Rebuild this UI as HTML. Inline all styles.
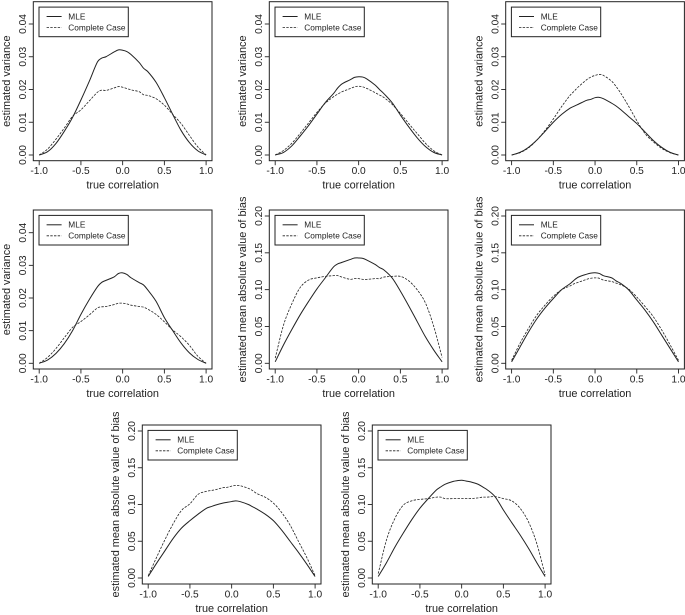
<!DOCTYPE html>
<html>
<head>
<meta charset="utf-8">
<title>True correlation panels</title>
<style>
html,body{margin:0;padding:0;background:#fff;width:685px;height:615px;overflow:hidden}
svg{display:block;font-family:"Liberation Sans",Arial,sans-serif;filter:blur(0.3px)}
</style>
</head>
<body>
<svg id="figure" width="685" height="615" viewBox="0 0 685 615" xmlns="http://www.w3.org/2000/svg"></svg>
<script>
const correlation = [-1,-.9,-.8,-.7,-.6,-.5,-.4,-.3,-.25,-.2,-.1,-.05,0,.05,.1,.2,.25,.3,.4,.5,.6,.7,.8,.9,1];
const xTicks = [-1,-0.5,0,0.5,1];
const xTickLabels = ["-1.0","-0.5","0.0","0.5","1.0"];
const varianceTicks = [0,0.01,0.02,0.03,0.04];
const varianceTickLabels = ["0.00","0.01","0.02","0.03","0.04"];
const biasTicks = [0,0.05,0.10,0.15,0.20];
const biasTickLabels = ["0.00","0.05","0.10","0.15","0.20"];

const mle1 = [0,.001,.0035,.0072,.0115,.0168,.0225,.0285,.0296,.0300,.0315,.0321,.0320,.0316,.0307,.0282,.0265,.0255,.0222,.0175,.0124,.0075,.0038,.0013,0];
const cc1 = [0,.0018,.0048,.0082,.0118,.0138,.0165,.0192,.0198,.0197,.0205,.0209,.0207,.0203,.0199,.0193,.0184,.0182,.0172,.0152,.0124,.0096,.0060,.0025,0];
const mle2 = [0,.0008,.0028,.0058,.0090,.0125,.0160,.0188,.0205,.0217,.0230,.0237,.0239,.0238,.0232,.0213,.0200,.0188,.0160,.0122,.0086,.0053,.0026,.0008,0];
const cc2 = [0,.0014,.0036,.0066,.0098,.0130,.0158,.0178,.0186,.0193,.0203,.0208,.0210,.0208,.0203,.0190,.0183,.0176,.0155,.0127,.0096,.0066,.0036,.0013,0];
const mle3 = [0,.0008,.0023,.0045,.0072,.0100,.0124,.0143,.0149,.0155,.0167,.0170,.0175,.0176,.0172,.0158,.0150,.0140,.0118,.0096,.0070,.0044,.0023,.0008,0];
const cc3 = [0,.0007,.0021,.0045,.0075,.0110,.0148,.0182,.0195,.0208,.0230,.0238,.0243,.0246,.0243,.0225,.0210,.0192,.0150,.0105,.0065,.0040,.0020,.0007,0];
const mle4 = [0,.0010,.0030,.0060,.0100,.0150,.0195,.0235,.0248,.0254,.0265,.0275,.0277,.0272,.0262,.0247,.0240,.0225,.0190,.0140,.0100,.0062,.0032,.0012,0];
const cc4 = [0,.0018,.0045,.0078,.0110,.0128,.0148,.0170,.0173,.0174,.0180,.0184,.0184,.0182,.0178,.0174,.0172,.0166,.0150,.0127,.0102,.0081,.0055,.0022,0];
const mle5 = [.002,.025,.046,.066,.084,.101,.116,.131,.135,.137,.141,.143,.143,.1425,.140,.134,.130,.127,.116,.098,.078,.057,.036,.018,.002];
const cc5 = [.007,.052,.081,.103,.113,.116,.118,.119,.119,.117,.114,.115,.115,.114,.114,.115,.115,.117,.118,.118,.112,.100,.082,.050,.008];
const mle6 = [.002,.022,.042,.060,.075,.088,.100,.108,.113,.117,.121,.1225,.123,.122,.119,.116,.112,.109,.100,.086,.072,.056,.038,.020,.002];
const cc6 = [.004,.027,.047,.065,.079,.091,.100,.105,.108,.110,.114,.1155,.116,.1155,.113,.111,.109,.107,.101,.090,.077,.063,.045,.025,.004];
const mle7 = [.002,.020,.037,.054,.068,.078,.087,.095,.097,.099,.102,.103,.104,.105,.104,.100,.097,.094,.087,.078,.065,.050,.035,.019,.002];
const cc7 = [.003,.028,.052,.074,.092,.101,.114,.118,.119,.120,.123,.1235,.125,.126,.1255,.122,.119,.115,.110,.102,.089,.072,.050,.028,.003];
const mle8 = [.002,.021,.042,.061,.079,.095,.108,.120,.124,.1275,.1315,.1325,.133,.132,.131,.1274,.124,.1206,.1107,.0925,.0754,.0587,.0406,.021,.002];
const cc8 = [.006,.052,.081,.099,.105,.107,.108,.110,.110,.108,.108,.108,.108,.108,.108,.109,.110,.110,.1107,.108,.105,.095,.0766,.047,.004];

const varianceTitle = "estimated variance";
const biasTitle = "estimated mean absolute value of bias";
const xTitle = "true correlation";
const legendLabels = ["MLE","Complete Case"];

const panels = [
  {left:33.3, top:1.7, zero:155, span:131, yMax:0.04, mle:mle1, cc:cc1, ticks:varianceTicks, tickLabels:varianceTickLabels, title:varianceTitle},
  {left:269.3, top:1.7, zero:155, span:131, yMax:0.04, mle:mle2, cc:cc2, ticks:varianceTicks, tickLabels:varianceTickLabels, title:varianceTitle},
  {left:505.7, top:1.7, zero:155, span:131, yMax:0.04, mle:mle3, cc:cc3, ticks:varianceTicks, tickLabels:varianceTickLabels, title:varianceTitle},
  {left:33.3, top:210, zero:363.3, span:130.6, yMax:0.04, mle:mle4, cc:cc4, ticks:varianceTicks, tickLabels:varianceTickLabels, title:varianceTitle},
  {left:269.3, top:210, zero:363.3, span:147.3, yMax:0.2, mle:mle5, cc:cc5, ticks:biasTicks, tickLabels:biasTickLabels, title:biasTitle},
  {left:505.7, top:210, zero:363.3, span:147.3, yMax:0.2, mle:mle6, cc:cc6, ticks:biasTicks, tickLabels:biasTickLabels, title:biasTitle},
  {left:142.3, top:425, zero:578, span:147, yMax:0.2, mle:mle7, cc:cc7, ticks:biasTicks, tickLabels:biasTickLabels, title:biasTitle},
  {left:372.3, top:425, zero:578, span:147, yMax:0.2, mle:mle8, cc:cc8, ticks:biasTicks, tickLabels:biasTickLabels, title:biasTitle}
];

const INK = "#222";
const NS = "http://www.w3.org/2000/svg";
const BOX_W = 178.7, BOX_H = 159;

function make(tag, attrs, parent) {
  const el = document.createElementNS(NS, tag);
  for (const k in attrs) el.setAttribute(k, attrs[k]);
  parent.appendChild(el);
  return el;
}

function drawSeries(g, values, xScale, yScale, dash, width) {
  const last = values.length - 1;
  function slope(i) {
    const a = Math.max(i - 1, 0), b = Math.min(i + 1, last);
    return (values[b] - values[a]) / (correlation[b] - correlation[a]);
  }
  let d = "M" + xScale(correlation[0]).toFixed(2) + " " + yScale(values[0]).toFixed(2);
  for (let i = 0; i < last; i++) {
    const h = correlation[i + 1] - correlation[i];
    const c1x = correlation[i] + h / 3, c1y = values[i] + slope(i) * h / 3;
    const c2x = correlation[i + 1] - h / 3, c2y = values[i + 1] - slope(i + 1) * h / 3;
    d += "C" + xScale(c1x).toFixed(2) + " " + yScale(c1y).toFixed(2) + " " +
         xScale(c2x).toFixed(2) + " " + yScale(c2y).toFixed(2) + " " +
         xScale(correlation[i + 1]).toFixed(2) + " " + yScale(values[i + 1]).toFixed(2);
  }
  const attrs = {d: d, fill: "none", stroke: INK, "stroke-width": width, "stroke-linejoin": "round"};
  if (dash) attrs["stroke-dasharray"] = dash;
  return make("path", attrs, g);
}

const svg = document.getElementById("figure");

panels.forEach(function (p, index) {
  const xScale = function (r) { return p.left + 5.9 + (r + 1) / 2 * 166.9; };
  const yScale = function (v) { return p.zero - v / p.yMax * p.span; };
  const bottom = p.top + BOX_H;
  const cx = p.left + BOX_W / 2;
  const cy = p.top + BOX_H / 2;

  const g = make("g", {}, svg);
  
  

  const frame = make("rect", {x: p.left, y: p.top, width: BOX_W, height: BOX_H, fill: "none", stroke: INK, "stroke-width": 1}, g);
  
  

  xTicks.forEach(function (t, i) {
    const tick = make("line", {x1: xScale(t), x2: xScale(t), y1: bottom, y2: bottom + 4.5, stroke: INK, "stroke-width": 0.9}, g);
    
    
    const label = make("text", {x: xScale(t), y: bottom + 13.3, "text-anchor": "middle", "font-size": 10.2, fill: INK}, g);
    label.textContent = xTickLabels[i];
    
    
  });

  p.ticks.forEach(function (t, i) {
    const y = yScale(t);
    const tick = make("line", {x1: p.left - 4.5, x2: p.left, y1: y, y2: y, stroke: INK, "stroke-width": 0.9}, g);
    
    
    const lx = p.left - 7.3;
    const label = make("text", {x: lx, y: y, transform: "rotate(-90 " + lx + " " + y + ")", "text-anchor": "middle", "font-size": 10.2, fill: INK}, g);
    label.textContent = p.tickLabels[i];
    
    
  });

  const xt = make("text", {x: cx, y: bottom + 28, "text-anchor": "middle", "font-size": 10.9, fill: INK}, g);
  xt.textContent = xTitle;
  
  

  const tx = p.left - 23.3;
  const yt = make("text", {x: tx, y: cy, transform: "rotate(-90 " + tx + " " + cy + ")", "text-anchor": "middle", "font-size": 10.9, fill: INK}, g);
  yt.textContent = p.title;
  
  

  const mleLine = drawSeries(g, p.mle, xScale, yScale, null, 1);
  
  

  const ccLine = drawSeries(g, p.cc, xScale, yScale, "2.4 1.3", 0.8);
  
  

  const lx = p.left + 5.7, ly = p.top + 5.4;
  const legend = make("g", {}, g);
  
  

  const legendBox = make("rect", {x: lx, y: ly, width: 89.3, height: 29.6, fill: "#fff", stroke: INK, "stroke-width": 1}, legend);
  
  

  const sampleSolid = make("line", {x1: lx + 7.6, x2: lx + 22.6, y1: ly + 9.4, y2: ly + 9.4, stroke: INK, "stroke-width": 1}, legend);
  
  

  const sampleDash = make("line", {x1: lx + 7.6, x2: lx + 22.6, y1: ly + 20.4, y2: ly + 20.4, stroke: INK, "stroke-width": 0.8, "stroke-dasharray": "2.4 1.3"}, legend);
  
  

  const t1 = make("text", {x: lx + 29.3, y: ly + 12.3, "font-size": 8.3, fill: INK}, legend);
  t1.textContent = legendLabels[0];
  
  

  const t2 = make("text", {x: lx + 29.3, y: ly + 23.3, "font-size": 8.3, fill: INK}, legend);
  t2.textContent = legendLabels[1];
  
  
});
</script>
</body>
</html>
